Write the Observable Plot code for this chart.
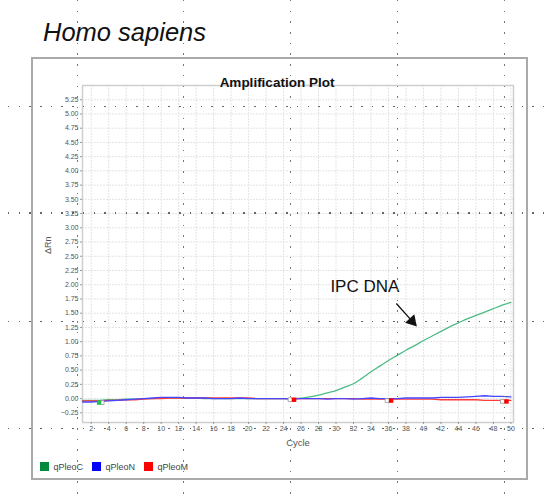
<!DOCTYPE html>
<html>
<head>
<meta charset="utf-8">
<script src="https://cdn.jsdelivr.net/npm/d3@7"></script>
<script src="https://cdn.jsdelivr.net/npm/@observablehq/plot@0.6"></script>
<style>
  html, body { margin: 0; padding: 0; background: #fff; }
  body { width: 550px; height: 498px; position: relative; overflow: hidden; font-family: "Liberation Sans", Arial, sans-serif; }
  #title { position: absolute; left: 43px; top: 20px; font-size: 25.5px; line-height: 24px; font-style: italic; color: #111; }
  #frame { position: absolute; left: 31px; top: 57px; width: 493px; height: 419px; border: 2px solid #aaa; }
  #chart { position: absolute; left: 0; top: 57px; }
  #legend { position: absolute; left: 40px; top: 450px; }
  .guide-h { position: absolute; left: 8px; width: 538px; height: 1.5px;
    background: repeating-linear-gradient(to right, #666 0 1.5px, transparent 1.5px 10.7px); }
  .guide-v { position: absolute; top: 0; height: 498px; width: 1px;
    background: repeating-linear-gradient(to bottom, #777 0 1.5px, transparent 1.5px 10.7px); }
</style>
</head>
<body>
<div id="title">Homo sapiens</div>
<div id="frame"></div>
<div id="chart"></div>
<div id="legend"></div>
<div id="guides"></div>
<script>
// ---- data ----
const cycles = [1,2,3,4,5,6,7,8,9,10,11,12,13,14,15,16,17,18,19,20,21,22,23,24,25,26,27,28,29,30,31,32,33,34,35,36,37,38,39,40,41,42,43,44,45,46,47,48,49,50];
const qPleoC = [-0.03,-0.03,-0.03,-0.02,-0.02,-0.01,-0.01,0.00,0.00,0.01,0.01,0.01,0.01,0.01,0.00,0.00,0.00,0.00,0.00,0.00,0.00,0.00,0.00,0.00,0.00,0.01,0.03,0.06,0.10,0.14,0.20,0.26,0.36,0.47,0.57,0.67,0.76,0.85,0.93,1.02,1.10,1.18,1.26,1.33,1.40,1.46,1.52,1.58,1.64,1.69];
const qPleoN = [-0.06,-0.06,-0.05,-0.04,-0.03,-0.02,-0.01,0.00,0.01,0.02,0.02,0.02,0.01,0.01,0.01,0.00,0.00,0.00,0.01,0.00,0.00,0.00,0.00,0.00,-0.01,0.00,0.00,0.00,-0.01,0.00,0.00,-0.01,0.00,0.01,0.00,0.00,0.00,0.01,0.01,0.01,0.01,0.02,0.02,0.02,0.03,0.04,0.05,0.04,0.04,0.03];
const qPleoM = [-0.04,-0.04,-0.04,-0.03,-0.03,-0.02,-0.02,-0.01,0.00,0.00,0.01,0.01,0.01,0.01,0.01,0.01,0.01,0.01,0.01,0.01,0.00,0.00,0.00,0.00,0.00,0.00,0.00,0.00,0.00,0.00,0.00,0.00,-0.01,-0.01,-0.01,-0.01,-0.01,-0.01,-0.01,-0.01,-0.01,-0.02,-0.02,-0.02,-0.02,-0.02,-0.03,-0.03,-0.03,-0.03];
const seriesNames = ["qPleoC", "qPleoN", "qPleoM"];
const legendColors = ["#008a3e", "#0000ff", "#ff0000"];
const markerCycles = [2.9, 25.2, 36.3, 49.5];
const markerValues = [-0.07, -0.02, -0.035, -0.05];
const markerSeries = ["qPleoC", "qPleoM", "qPleoM", "qPleoM"];
const xTicks = [2,4,6,8,10,12,14,16,18,20,22,24,26,28,30,32,34,36,38,40,42,44,46,48,50];
const yTicks = [-0.25,0,0.25,0.5,0.75,1,1.25,1.5,1.75,2,2.25,2.5,2.75,3,3.25,3.5,3.75,4,4.25,4.5,4.75,5,5.25];
const annotation = {label: "IPC DNA", cycle: 33.3, value: 1.96};
const arrowFrom = {cycle: 36.9, value: 1.67};
const arrowTo = {cycle: 38.7, value: 1.36};

// ---- build tables ----
const lineRows = (vals, s) => cycles.map((c, i) => ({cycle: c, value: vals[i], series: s}));
const rowsC = lineRows(qPleoC, "qPleoC");
const rowsN = lineRows(qPleoN, "qPleoN");
const rowsM = lineRows(qPleoM, "qPleoM");
const markers = markerCycles.map((c, i) => ({cycle: c, value: markerValues[i], series: markerSeries[i]}));
const markerColor = s => s === "qPleoC" ? "#22c24a" : "#ff0000";

const chart = Plot.plot({
  width: 550,
  height: 422,
  marginLeft: 82,
  marginRight: 37,
  marginTop: 28,
  marginBottom: 57,
  style: {fontFamily: "'Liberation Sans', Arial, sans-serif", fontSize: "7px", color: "#555", background: "transparent", overflow: "visible"},
  x: {domain: [1, 50.3], label: null},
  y: {domain: [-0.42, 5.5], label: null},
  marks: [
    Plot.ruleX(xTicks, {stroke: "#e4e4e4", strokeDasharray: "2,1"}),
    Plot.ruleY(yTicks, {stroke: "#e4e4e4", strokeDasharray: "2,1"}),
    Plot.frame({stroke: "#cfcfcf", strokeWidth: 1.5}),
    Plot.axisX({ticks: xTicks, tickSize: 2, tickPadding: 2, tickFormat: d => String(d), stroke: "#999", fill: "#555", label: null}),
    Plot.axisY({ticks: yTicks, tickSize: 2, tickPadding: 2, tickFormat: d3.format(".2f"), stroke: "#999", fill: "#555", label: null}),
    Plot.line(rowsC, {x: "cycle", y: "value", stroke: "#4dbb85", strokeWidth: 1.3, curve: "catmull-rom"}),
    Plot.line(rowsM, {x: "cycle", y: "value", stroke: "#ff3a3a", strokeWidth: 1.3}),
    Plot.line(rowsN, {x: "cycle", y: "value", stroke: "#4646ff", strokeWidth: 1.3}),
    Plot.dot(markers, {x: "cycle", y: "value", symbol: "square", r: 2.2, fill: "white", stroke: "#999", strokeWidth: 0.8, filter: d => d.series === "qPleoC", dx: 3}),
    Plot.dot(markers, {x: "cycle", y: "value", symbol: "square", r: 2.2, fill: "white", stroke: "#999", strokeWidth: 0.8, filter: d => d.series !== "qPleoC", dx: -4}),
    Plot.dot(markers, {x: "cycle", y: "value", symbol: "square", r: 2.5, fill: d => markerColor(d.series), stroke: "none"}),
    Plot.link([0], {x1: () => arrowFrom.cycle, y1: () => arrowFrom.value, x2: () => arrowTo.cycle, y2: () => arrowTo.value, stroke: "#111", strokeWidth: 1.3}),
    Plot.dot([0], {x: () => arrowTo.cycle, y: () => arrowTo.value, symbol: "triangle", r: 4.6, fill: "#111", stroke: "none", rotate: 138}),
    Plot.text([annotation], {x: "cycle", y: "value", text: "label", fontSize: 17, fill: "#111", fontFamily: "'Liberation Sans', Arial, sans-serif"}),
    Plot.text(["Amplification Plot"], {frameAnchor: "top", lineAnchor: "middle", dx: -21, dy: -3, fontSize: 13.5, fontWeight: "bold", fill: "#111"}),
    Plot.text(["Cycle"], {frameAnchor: "bottom", lineAnchor: "middle", dy: 20, fontSize: 9.5, fill: "#555"}),
    Plot.text(["\u0394Rn"], {frameAnchor: "left", lineAnchor: "middle", dx: -34, rotate: -90, fontSize: 9, fill: "#555"})
  ]
});
document.getElementById("chart").appendChild(chart);

const legend = Plot.legend({
  color: {domain: seriesNames, range: legendColors},
  legend: "swatches",
  swatchSize: 9,
  style: {fontFamily: "'Liberation Sans', Arial, sans-serif", fontSize: "9px", color: "#444"}
});
document.getElementById("legend").appendChild(legend);

// slide guide dots (screen decoration in the reference)
const guideRows = [105.7, 212.3, 320.7, 427.7];
const guideCols = [76.5, 183, 290, 397, 504];
const g = document.getElementById("guides");
guideRows.forEach(y => { const d = document.createElement("div"); d.className = "guide-h"; d.style.top = y + "px"; g.appendChild(d); });
guideCols.forEach(x => { const d = document.createElement("div"); d.className = "guide-v"; d.style.left = x + "px"; g.appendChild(d); });
</script>
</body>
</html>
